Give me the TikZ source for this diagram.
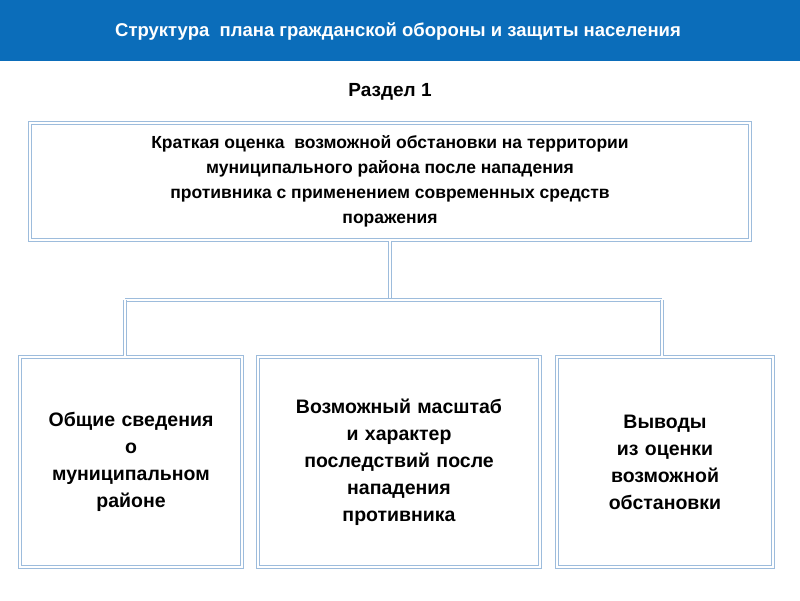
\documentclass[tikz,border=0pt]{standalone}
\usepackage{fontspec}
\setmainfont{Liberation Sans}
\usetikzlibrary{positioning}
\definecolor{headblue}{HTML}{0B6DBA}
\definecolor{framebl}{HTML}{9DBCDC}
\tikzset{
  frame/.style={draw=framebl, double=white, double distance=1.5pt, line width=1.6pt},
  block/.style={frame, fill=white, align=center, font=\bfseries\fontsize{19.5}{27}\selectfont, inner sep=0pt},
}
\begin{document}
\begin{tikzpicture}[x=1pt,y=-1pt]
   \useasboundingbox (0,0) rectangle (800,600);
   \fill[headblue] (0,0) rectangle (800,61);
   \node[text=white, font=\bfseries\fontsize{18.5}{22}\selectfont] (title) at (398,32) {Структура \ плана гражданской обороны и защиты населения};
   \node[font=\bfseries\fontsize{19}{22}\selectfont] (sect) at (390,92) {Раздел 1};
   \node[block, minimum width=720, minimum height=117, font=\bfseries\fontsize{17.5}{25}\selectfont] (top) at (390,181.5)
     {Краткая оценка \ возможной обстановки на территории\\
      муниципального района после нападения\\
      противника с применением современных средств\\
      поражения};
   \node[block, minimum width=222, minimum height=210, text width=215] (left) at (131,462)
     {Общие сведения\\о\\муниципальном\\районе};
   \node[block, minimum width=282, minimum height=210, text width=270] (mid) at (399,462)
     {Возможный масштаб\\и характер\\последствий после\\нападения\\противника};
   \node[block, minimum width=216, minimum height=210, text width=205] (right) at (665,462)
     {Выводы\\из оценки\\возможной\\обстановки};
   \coordinate (hub) at (390,300);
   \coordinate (hl) at (125,300);
   \coordinate (hr) at (662,300);
   \draw[frame] (top.south) -- (hub);
   \draw[frame] (hl) -- (hr);
   \draw[frame] (hl) -- (hl |- left.north);
   \draw[frame] (hr) -- (hr |- right.north);
\end{tikzpicture}
\end{document}
